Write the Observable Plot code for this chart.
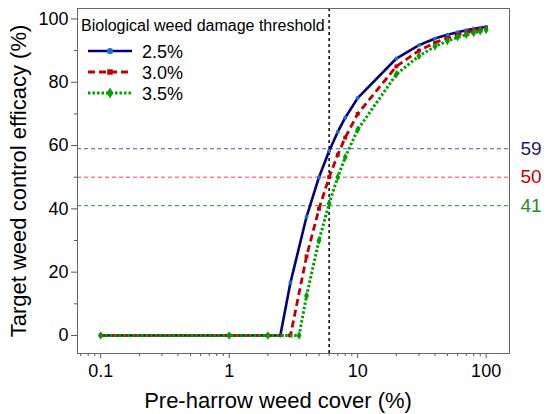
<!DOCTYPE html>
<html>
<head>
<meta charset="utf-8">
<script src="https://cdn.jsdelivr.net/npm/d3@7"></script>
<script src="https://cdn.jsdelivr.net/npm/@observablehq/plot@0.6"></script>
<style>
  body { margin: 0; background: #fff; }
  #chart { width: 550px; height: 414px; }
  #chart svg { font-family: "Liberation Sans", Arial, sans-serif; }
</style>
</head>
<body>
<div id="chart"></div>
<script>
// pre-harrow weed cover (%) and efficacy (%) per damage threshold
const coverBlue = [0.1, 1, 2, 2.5, 3, 4, 5, 6, 7, 8, 10, 20, 30, 40, 50, 60, 70, 80, 90, 100];
const effBlue   = [0, 0, 0, 0, 16.7, 37.5, 50, 58.3, 64.3, 68.8, 75, 87.5, 91.7, 93.8, 95, 95.8, 96.4, 96.9, 97.2, 97.5];
const coverRed  = [0.1, 1, 2, 3, 4, 5, 6, 7, 8, 10, 20, 30, 40, 50, 60, 70, 80, 90, 100];
const effRed    = [0, 0, 0, 0, 25, 40, 50, 57.1, 62.5, 70, 85, 90, 92.5, 94, 95, 95.7, 96.3, 96.7, 97];
const coverGreen = [0.1, 1, 2, 3.5, 4, 5, 6, 7, 8, 10, 20, 30, 40, 50, 60, 70, 80, 90, 100];
const effGreen   = [0, 0, 0, 0, 12.5, 30, 41.7, 50, 56.3, 65, 82.5, 88.3, 91.3, 93, 94.2, 95, 95.6, 96.1, 96.5];

const seriesNames = ["2.5%", "3.0%", "3.5%"];
const refValues = [59, 50, 41];
const coverMark = 6;

const xLabelTicks = [0.1, 1, 6, 10, 100];
const xMajor = [0.1, 1, 10, 100];
const xMinor = [0.07, 0.08, 0.09, 0.2, 0.3, 0.4, 0.5, 0.6, 0.7, 0.8, 0.9, 2, 3, 4, 5, 6, 7, 8, 9, 20, 30, 40, 50, 60, 70, 80, 90];
const yMajor = [0, 20, 40, 60, 80, 100];
const yMinor = [10, 30, 50, 70, 90];

const navy = "#000080", red = "#c00000", green = "#00a000";
const refLine = ["#5555b0", "#ff4040", "#2e8b40"];
const refText = ["#1a1a80", "#c00000", "#2a8a2a"];

const toRows = (xs, ys) => xs.map((c, i) => ({cover: c, eff: ys[i]}));
const blue = toRows(coverBlue, effBlue);
const redS = toRows(coverRed, effRed);
const greenS = toRows(coverGreen, effGreen);

const chart = Plot.plot({
  width: 550,
  height: 414,
  marginLeft: 77,
  marginRight: 41,
  marginTop: 8,
  marginBottom: 61,
  style: {fontFamily: "Liberation Sans, Arial, sans-serif", color: "#000", background: "white"},
  x: {type: "log", domain: [0.066, 152]},
  y: {domain: [-5.7, 103.3]},
  marks: [
    Plot.ruleY(refValues, {y: d => d, stroke: (d, i) => refLine[i], strokeWidth: 1, strokeDasharray: "4,3"}),
    Plot.ruleX([coverMark], {stroke: "black", strokeWidth: 1.5, strokeDasharray: "3,3"}),

    Plot.line(blue, {x: "cover", y: "eff", stroke: navy, strokeWidth: 2.6}),
    Plot.dot(blue, {x: "cover", y: "eff", r: 2, fill: "#1a6fd0", stroke: "none"}),
    Plot.line(redS, {x: "cover", y: "eff", stroke: red, strokeWidth: 2.8, strokeDasharray: "7,4", strokeLinecap: "butt"}),
    Plot.dot(redS, {x: "cover", y: "eff", symbol: "square", r: 2.2, fill: red, stroke: "none"}),
    Plot.line(greenS, {x: "cover", y: "eff", stroke: green, strokeWidth: 3, strokeDasharray: "2.5,2", strokeLinecap: "butt"}),
    Plot.dot(greenS, {x: "cover", y: "eff", symbol: "diamond", r: 2.6, fill: green, stroke: "none"}),

    Plot.text(refValues, {y: d => d, text: d => String(d), frameAnchor: "right", textAnchor: "start",
      dx: 11, fill: (d, i) => refText[i], fontSize: 19}),

    Plot.axisX({ticks: xMajor, tickSize: 5, tickFormat: () => "", label: null, stroke: "#555"}),
    Plot.axisX({ticks: xMinor, tickSize: 3, tickFormat: () => "", label: null, stroke: "#555"}),
    Plot.axisX({ticks: xLabelTicks, tickSize: 0, tickPadding: 11, fontSize: 18, tickFormat: d => String(d), label: null}),
    Plot.axisY({ticks: yMajor, tickSize: 6, tickPadding: 3, fontSize: 18, label: null, stroke: "#555"}),
    Plot.axisY({ticks: yMinor, tickSize: 3, tickFormat: () => "", label: null, stroke: "#555"}),
    Plot.frame({stroke: "#666", strokeWidth: 1})
  ]
});

d3.select("#chart").append(() => chart);
const svg = d3.select(chart);

// axis titles
svg.append("text")
  .attr("transform", "translate(26,181) rotate(-90)")
  .attr("text-anchor", "middle")
  .attr("font-size", 22)
  .attr("fill", "#000")
  .text("Target weed control efficacy (%)");
svg.append("text")
  .attr("x", 278).attr("y", 408)
  .attr("text-anchor", "middle")
  .attr("font-size", 22)
  .attr("fill", "#000")
  .text("Pre-harrow weed cover (%)");

// legend
const leg = svg.append("g").attr("text-anchor", "start");
leg.append("text").attr("x", 81).attr("y", 31).attr("font-size", 16).attr("fill", "#000")
  .text("Biological weed damage threshold");
const legStyle = [
  {stroke: navy, dash: null, w: 2.6, sym: d3.symbolCircle, fill: "#1a6fd0", size: 30},
  {stroke: red, dash: "7,4", w: 2.8, sym: d3.symbolSquare, fill: red, size: 30},
  {stroke: green, dash: "2.5,2", w: 3, sym: d3.symbolDiamond, fill: green, size: 36}
];
seriesNames.forEach((name, i) => {
  const y = 51 + i * 21;
  const s = legStyle[i];
  leg.append("line").attr("x1", 88).attr("x2", 132).attr("y1", y).attr("y2", y)
    .attr("stroke", s.stroke).attr("stroke-width", s.w).attr("stroke-dasharray", s.dash);
  leg.append("path").attr("transform", `translate(110,${y})`)
    .attr("d", d3.symbol(s.sym, s.size)()).attr("fill", s.fill);
  leg.append("text").attr("x", 142).attr("y", y + 6.5).attr("font-size", 18).attr("fill", "#000").text(name);
});
</script>
</body>
</html>
